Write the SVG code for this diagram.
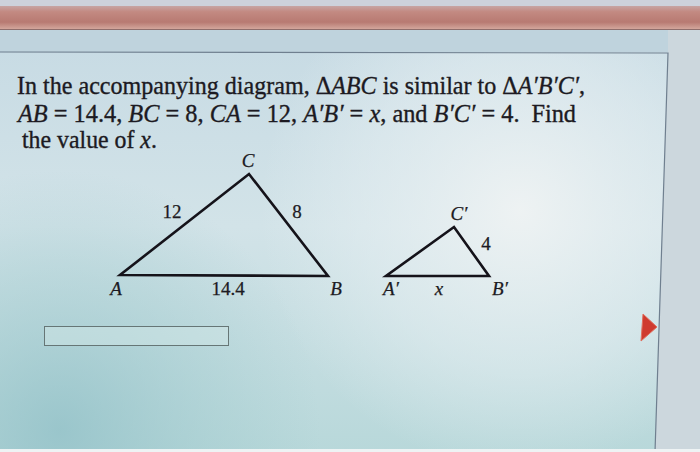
<svg xmlns="http://www.w3.org/2000/svg" width="700" height="452" viewBox="0 0 700 452">
  <defs>
    <linearGradient id="pink" x1="0" y1="0" x2="0" y2="1">
      <stop offset="0" stop-color="#c7a4a3"/>
      <stop offset="0.25" stop-color="#c38a82"/>
      <stop offset="0.7" stop-color="#b87a72"/>
      <stop offset="1" stop-color="#d3a69c"/>
    </linearGradient>
    <linearGradient id="panel" x1="0" y1="0" x2="0" y2="1">
      <stop offset="0" stop-color="#c5d9e3"/>
      <stop offset="0.5" stop-color="#d2e3e8"/>
      <stop offset="1" stop-color="#b8d8da"/>
    </linearGradient>
    <radialGradient id="glow" cx="520" cy="210" r="260" gradientUnits="userSpaceOnUse">
      <stop offset="0" stop-color="#f1f4f4" stop-opacity="0.9"/>
      <stop offset="0.6" stop-color="#e6eff2" stop-opacity="0.5"/>
      <stop offset="1" stop-color="#e6eff2" stop-opacity="0"/>
    </radialGradient>
    <radialGradient id="teal" cx="60" cy="430" r="260" gradientUnits="userSpaceOnUse">
      <stop offset="0" stop-color="#8fbfc6" stop-opacity="0.75"/>
      <stop offset="0.6" stop-color="#9cc8cc" stop-opacity="0.35"/>
      <stop offset="1" stop-color="#9cc8cc" stop-opacity="0"/>
    </radialGradient>
  </defs>
  <style>
    .q { font-family: "Liberation Serif", "Times New Roman", serif; font-size: 25px; fill: #1c1a22; stroke: #1c1a22; stroke-width: 0.35; }
    .lbl { font-family: "Liberation Serif", "Times New Roman", serif; font-size: 19px; fill: #1c1a22; stroke: #1c1a22; stroke-width: 0.25; text-anchor: middle; }
    .it { font-style: italic; }
    .tri { fill: none; stroke: #15131a; stroke-width: 2.6; stroke-linejoin: miter; }
  </style>

  <g id="background">
    <rect x="0" y="0" width="700" height="452" fill="url(#panel)"/>
    <rect x="0" y="0" width="700" height="6" fill="#cdd1db"/>
    <rect x="0" y="6" width="700" height="23" fill="url(#pink)"/>
    <rect x="0" y="29" width="700" height="1" fill="#8f6e6c"/>
    <rect x="0" y="30" width="700" height="22" fill="#bfd3dd"/>
    <rect x="0" y="52" width="668" height="400" fill="url(#glow)"/>
    <rect x="0" y="52" width="668" height="400" fill="url(#teal)"/>
    <polygon points="668,30 700,30 700,452 655,452 668,53" fill="#ccd7dd"/>
    <polyline points="0,52 668,53 655,452" fill="none" stroke="#6f7f8f" stroke-width="1.2"/>
    <rect x="0" y="449" width="700" height="3" fill="#eef3f4"/>
  </g>

  <g id="question">
    <text class="q" transform="translate(17,94) scale(0.963,1)">In the accompanying diagram, Δ<tspan class="it">ABC</tspan> is similar to Δ<tspan class="it">A′B′C′</tspan>,</text>
    <text class="q" transform="translate(18,122) scale(0.974,1)"><tspan class="it">AB</tspan> = 14.4, <tspan class="it">BC</tspan> = 8, <tspan class="it">CA</tspan> = 12, <tspan class="it">A′B′</tspan> = <tspan class="it">x</tspan>, and <tspan class="it">B′C′</tspan> = 4. <tspan dx="6">Find</tspan></text>
    <text class="q" transform="translate(22,148) scale(0.953,1)">the value of <tspan class="it">x</tspan>.</text>
  </g>

  <g id="triangle-ABC">
    <polygon class="tri" points="120,275 328,276 249,174"/>
    <text class="lbl it" x="248" y="167">C</text>
    <text class="lbl" x="172" y="218">12</text>
    <text class="lbl" x="297" y="218">8</text>
    <text class="lbl it" x="116" y="295">A</text>
    <text class="lbl" x="228" y="295">14.4</text>
    <text class="lbl it" x="336" y="295">B</text>
  </g>

  <g id="triangle-A1B1C1">
    <polygon class="tri" points="386,276 489,276 454,227"/>
    <text class="lbl it" x="459" y="220">C′</text>
    <text class="lbl" x="486" y="250">4</text>
    <text class="lbl it" x="391" y="295">A′</text>
    <text class="lbl it" x="439" y="295">x</text>
    <text class="lbl it" x="500" y="295">B′</text>
  </g>

  <g id="answer-box">
    <rect x="44.5" y="326.5" width="184" height="19" fill="#cfe6e6" fill-opacity="0.5" stroke="#667676" stroke-width="1"/>
  </g>

  <g id="next-button">
    <polygon points="643,314 657,327 641,341" fill="#cf3b2f" stroke="#e0705f" stroke-width="1"/>
  </g>
</svg>
